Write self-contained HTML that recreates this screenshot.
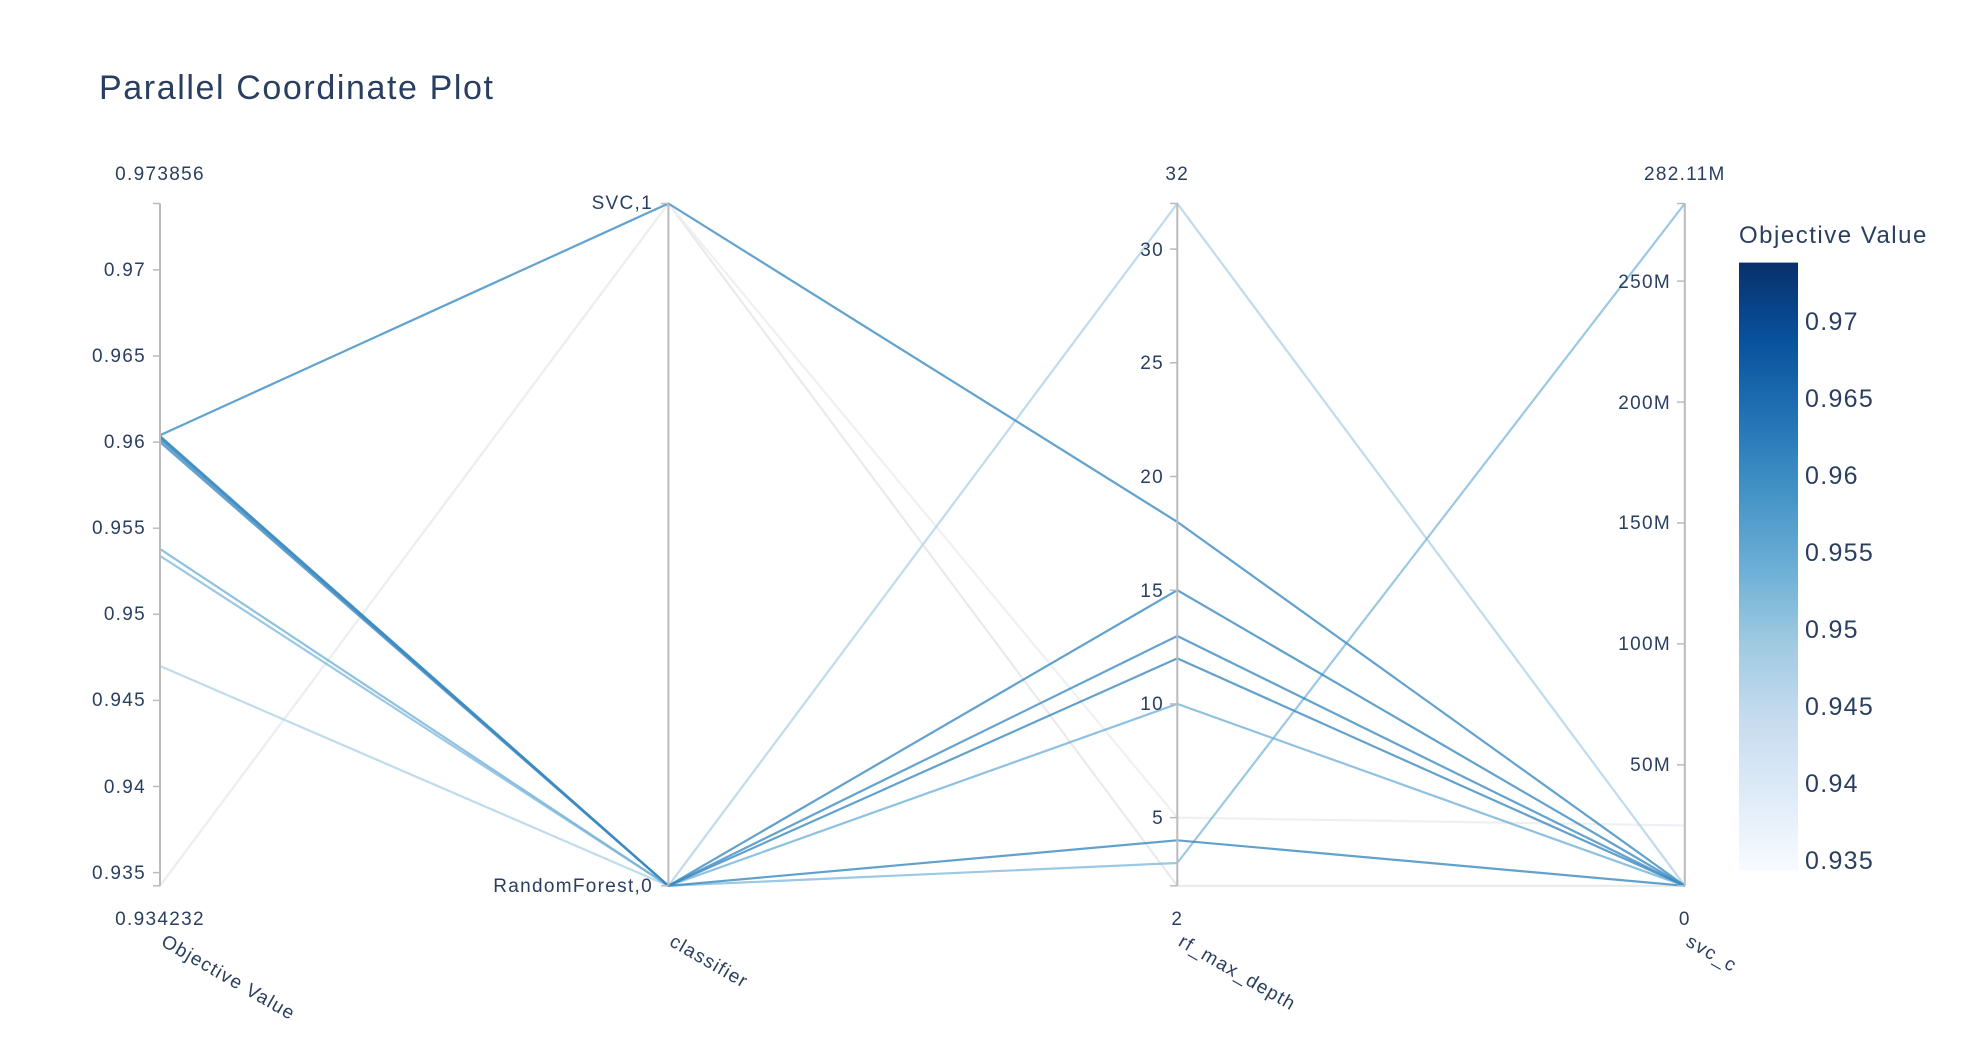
<!DOCTYPE html>
<html><head><meta charset="utf-8"><style>
html,body{margin:0;padding:0;background:#fff;}
svg{display:block;font-family:"Liberation Sans",sans-serif;}
</style></head><body>
<svg width="1970" height="1050" viewBox="0 0 1970 1050" xmlns="http://www.w3.org/2000/svg">
<defs>
<linearGradient id="cb" x1="0" y1="1" x2="0" y2="0">
<stop offset="0" stop-color="rgb(247,251,255)"/>
<stop offset="0.125" stop-color="rgb(222,235,247)"/>
<stop offset="0.25" stop-color="rgb(198,219,239)"/>
<stop offset="0.375" stop-color="rgb(158,202,225)"/>
<stop offset="0.5" stop-color="rgb(107,174,214)"/>
<stop offset="0.625" stop-color="rgb(66,146,198)"/>
<stop offset="0.75" stop-color="rgb(33,113,181)"/>
<stop offset="0.875" stop-color="rgb(8,81,156)"/>
<stop offset="1" stop-color="rgb(8,48,107)"/>
</linearGradient>
</defs>
<rect width="1970" height="1050" fill="#fff"/>
<text x="99" y="99" font-size="34" letter-spacing="1.6" fill="#2a3f5f">Parallel Coordinate Plot</text>

<!-- lines -->
<g fill="none" stroke-width="2.2" stroke-linejoin="round">
<polyline points="160,885.8 668.4,203.5 1177.3,885.8 1684.8,885.8" stroke="#e8e8e8" stroke-opacity="0.9"/>
<polyline points="160,885.8 668.4,203.5 1177.3,817.6 1684.8,825.5" stroke="#eceef2" stroke-opacity="0.9"/>
<polyline points="160,666 668.4,885.8 1177.3,203.5 1684.8,885.8" stroke="rgb(175,210,231)" stroke-opacity="0.8"/>
<polyline points="160,555.8 668.4,885.8 1177.3,863 1684.8,203.5" stroke="rgb(130,186,220)" stroke-opacity="0.8"/>
<polyline points="160,548.9 668.4,885.8 1177.3,703.9 1684.8,885.8" stroke="rgb(115,178,216)" stroke-opacity="0.8"/>
<polyline points="160,442 668.4,885.8 1177.3,636 1684.8,885.8" stroke="rgb(62,140,194)" stroke-opacity="0.8"/>
<polyline points="160,439 668.4,885.8 1177.3,658.4 1684.8,885.8" stroke="rgb(60,138,193)" stroke-opacity="0.8"/>
<polyline points="160,436 668.4,885.8 1177.3,590.2 1684.8,885.8" stroke="rgb(57,137,192)" stroke-opacity="0.8"/>
<polyline points="160,437 668.4,885.8 1177.3,840.3 1684.8,885.8" stroke="rgb(57,137,192)" stroke-opacity="0.8"/>
<polyline points="160,435.2 668.4,203.5 1177.3,521.9 1684.8,885.8" stroke="rgb(70,146,197)" stroke-opacity="0.85"/>
</g>

<!-- axes -->
<g stroke="#bbb" stroke-width="2">
<line x1="160" y1="203.5" x2="160" y2="885.8"/>
<line x1="668.4" y1="203.5" x2="668.4" y2="885.8"/>
<line x1="1177.3" y1="203.5" x2="1177.3" y2="885.8"/>
<line x1="1684.8" y1="203.5" x2="1684.8" y2="885.8"/>
</g>
<g stroke="#bbb" stroke-width="1.5">
<line x1="153" y1="203.5" x2="160" y2="203.5"/><line x1="153" y1="885.8" x2="160" y2="885.8"/>
<line x1="153" y1="269.9" x2="160" y2="269.9"/><line x1="153" y1="356" x2="160" y2="356"/>
<line x1="153" y1="442.1" x2="160" y2="442.1"/><line x1="153" y1="528.2" x2="160" y2="528.2"/>
<line x1="153" y1="614.3" x2="160" y2="614.3"/><line x1="153" y1="700.4" x2="160" y2="700.4"/>
<line x1="153" y1="786.5" x2="160" y2="786.5"/><line x1="153" y1="872.6" x2="160" y2="872.6"/>
<line x1="661" y1="203.5" x2="668.4" y2="203.5"/><line x1="661" y1="885.8" x2="668.4" y2="885.8"/>
<line x1="1170" y1="203.5" x2="1177.3" y2="203.5"/><line x1="1170" y1="885.8" x2="1177.3" y2="885.8"/>
<line x1="1170" y1="817.6" x2="1177.3" y2="817.6"/><line x1="1170" y1="703.9" x2="1177.3" y2="703.9"/>
<line x1="1170" y1="590.2" x2="1177.3" y2="590.2"/><line x1="1170" y1="476.5" x2="1177.3" y2="476.5"/>
<line x1="1170" y1="362.8" x2="1177.3" y2="362.8"/><line x1="1170" y1="249.1" x2="1177.3" y2="249.1"/>
<line x1="1677" y1="203.5" x2="1684.8" y2="203.5"/><line x1="1677" y1="885.8" x2="1684.8" y2="885.8"/>
<line x1="1677" y1="764.9" x2="1684.8" y2="764.9"/><line x1="1677" y1="643.9" x2="1684.8" y2="643.9"/>
<line x1="1677" y1="523" x2="1684.8" y2="523"/><line x1="1677" y1="402.1" x2="1684.8" y2="402.1"/>
<line x1="1677" y1="281.1" x2="1684.8" y2="281.1"/>
</g>

<g font-size="19" letter-spacing="1.3" fill="#2a3f5f">
<text x="160" y="180" text-anchor="middle">0.973856</text>
<text x="160" y="925" text-anchor="middle">0.934232</text>
<g text-anchor="end">
<text x="146" y="276">0.97</text><text x="146" y="362">0.965</text><text x="146" y="448">0.96</text>
<text x="146" y="534">0.955</text><text x="146" y="620">0.95</text><text x="146" y="706">0.945</text>
<text x="146" y="793">0.94</text><text x="146" y="879">0.935</text>
<text x="653" y="209">SVC,1</text><text x="653" y="892">RandomForest,0</text>
<text x="1164" y="256">30</text><text x="1164" y="369">25</text><text x="1164" y="483">20</text>
<text x="1164" y="597">15</text><text x="1164" y="710">10</text><text x="1164" y="824">5</text>
<text x="1671" y="288">250M</text><text x="1671" y="409">200M</text><text x="1671" y="529">150M</text>
<text x="1671" y="650">100M</text><text x="1671" y="771">50M</text>
</g>
<text x="1177.3" y="180" text-anchor="middle">32</text>
<text x="1177.3" y="925" text-anchor="middle">2</text>
<text x="1684.8" y="180" text-anchor="middle">282.11M</text>
<text x="1684.8" y="925" text-anchor="middle">0</text>
<text transform="translate(160,945) rotate(30)">Objective Value</text>
<text transform="translate(668.4,945) rotate(30)">classifier</text>
<text transform="translate(1177.3,945) rotate(30)">rf_max_depth</text>
<text transform="translate(1684.8,945) rotate(30)">svc_c</text>
</g>

<!-- colorbar -->
<text x="1739" y="243" font-size="24" letter-spacing="1.5" fill="#2a3f5f">Objective Value</text>
<rect x="1739" y="262.6" width="59" height="608" fill="url(#cb)"/>
<g font-size="25" letter-spacing="1.3" fill="#2a3f5f">
<text x="1805" y="330">0.97</text><text x="1805" y="407">0.965</text><text x="1805" y="484">0.96</text>
<text x="1805" y="561">0.955</text><text x="1805" y="638">0.95</text><text x="1805" y="715">0.945</text>
<text x="1805" y="792">0.94</text><text x="1805" y="869">0.935</text>
</g>
</svg>
</body></html>
